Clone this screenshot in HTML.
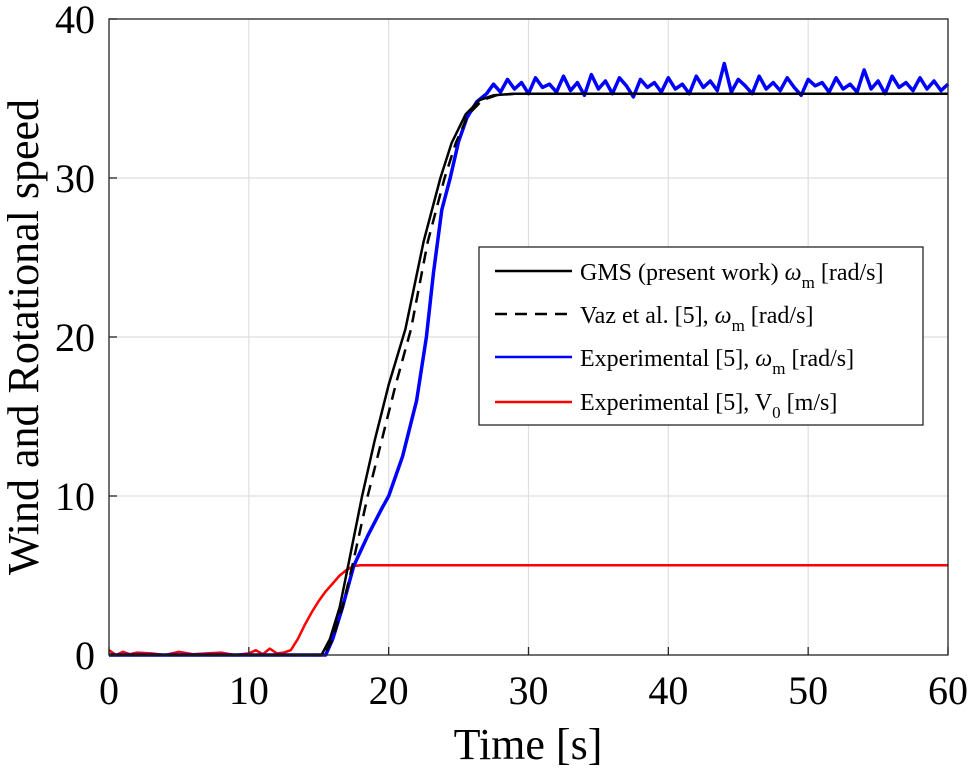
<!DOCTYPE html>
<html><head><meta charset="utf-8"><style>
html,body{margin:0;padding:0;background:#fff;}
svg{display:block;font-family:"Liberation Serif",serif;}
</style></head><body>
<svg id="chart" width="969" height="774">
<g id="grid"></g>
<g id="series"></g>
<rect x="109" y="19" width="839" height="636" fill="none" stroke="#262626" stroke-width="1.3"/>
<g id="ticks"></g>
<text x="528" y="759" font-size="44" text-anchor="middle">Time [s]</text>
<text transform="translate(38,337) rotate(-90)" font-size="44" text-anchor="middle">Wind and Rotational speed</text>
<g>
<rect x="479" y="247" width="444" height="178" fill="#fff" stroke="#262626" stroke-width="1.3"/>
<line x1="495" y1="271" x2="572" y2="271" stroke="#000" stroke-width="2.5"/>
<text x="580" y="280" font-size="24">GMS (present work) <tspan font-style="italic">ω</tspan><tspan font-size="17" dy="8">m</tspan><tspan dy="-8"> [rad/s]</tspan></text>
<line x1="495" y1="314" x2="572" y2="314" stroke="#000" stroke-width="2.5" stroke-dasharray="12,8"/>
<text x="580" y="323" font-size="24">Vaz et al. [5], <tspan font-style="italic">ω</tspan><tspan font-size="17" dy="8">m</tspan><tspan dy="-8"> [rad/s]</tspan></text>
<line x1="495" y1="357" x2="572" y2="357" stroke="#0000ff" stroke-width="2.5"/>
<text x="580" y="366" font-size="24">Experimental [5], <tspan font-style="italic">ω</tspan><tspan font-size="17" dy="8">m</tspan><tspan dy="-8"> [rad/s]</tspan></text>
<line x1="495" y1="402" x2="572" y2="402" stroke="#ff0000" stroke-width="2.5"/>
<text x="580" y="410" font-size="24">Experimental [5], V<tspan font-size="17" dy="8">0</tspan><tspan dy="-8"> [m/s]</tspan></text>
</g>
</svg>
<script>
const xTicks=[0,10,20,30,40,50,60];
const yTicks=[0,10,20,30,40];
const gmsT=[0,15.2,15.8,16.5,17.1,18.1,19,20,21.2,22.5,23.7,24.5,25.5,26.5,27.5,29,31,60];
const gmsV=[0,0,1,3,5.6,10,13.5,17,20.5,26,30,32.2,34,34.9,35.2,35.3,35.3,35.3];
const vazT=[0,15.4,16,16.7,17.4,18.5,19.5,20.5,21.6,22.8,24,24.8,25.7,26.7,27.7,29,31,60];
const vazV=[0,0,1,3,5.6,10,13.5,17,20.5,26,30,32.2,34,34.9,35.2,35.3,35.3,35.3];
const expWT=[0,15.5,16,16.7,17.5,18.5,19.5,20,21,22,22.7,23.2,23.8,24.4,25,25.6,26.3,27,27.5,28,28.5,29,29.5,30,30.5,31,31.5,32,32.5,33,33.5,34,34.5,35,35.5,36,36.5,37,37.5,38,38.5,39,39.5,40,40.5,41,41.5,42,42.5,43,43.5,44,44.5,45,45.5,46,46.5,47,47.5,48,48.5,49,49.5,50,50.5,51,51.5,52,52.5,53,53.5,54,54.5,55,55.5,56,56.5,57,57.5,58,58.5,59,59.5,60];
const expWV=[0,0,1,3,5.6,7.5,9.2,10,12.5,16,20,24,28,30,32.3,33.8,34.8,35.3,35.9,35.4,36.2,35.6,36,35.3,36.3,35.7,35.9,35.4,36.4,35.5,36,35.2,36.5,35.6,36.1,35.3,36.3,35.8,35.1,36.2,35.7,36,35.4,36.3,35.6,35.9,35.3,36.4,35.7,36.1,35.5,37.2,35.4,36.2,35.8,35.3,36.4,35.6,36,35.5,36.3,35.7,35.2,36.2,35.8,36,35.4,36.3,35.6,35.9,35.4,36.8,35.6,36.1,35.3,36.4,35.7,36,35.5,36.3,35.6,36.1,35.5,35.9];
const windT=[0,0.5,1,1.5,2,3,4,5,6,7,8,9,10,10.5,11,11.5,12,12.5,13,13.5,14,14.5,15,15.5,16,16.5,17,17.5,18,60];
const windV=[0.3,0,0.2,0.05,0.15,0.1,0,0.2,0.05,0.1,0.15,0,0.1,0.3,0.05,0.4,0.1,0.15,0.3,1.0,1.9,2.7,3.4,4.0,4.5,5.0,5.35,5.6,5.65,5.65];
const X0=109,X1=948,Y0=655,Y1=19;
const sx=t=>X0+(t/60)*(X1-X0);
const sy=v=>Y0-(v/40)*(Y0-Y1);
const NS="http://www.w3.org/2000/svg";
const grid=document.getElementById('grid'),ticks=document.getElementById('ticks'),ser=document.getElementById('series');
function mk(tag,attrs,parent){const e=document.createElementNS(NS,tag);for(const k in attrs)e.setAttribute(k,attrs[k]);parent.appendChild(e);return e;}
xTicks.forEach(t=>{
 const g=mk('line',{x1:sx(t),x2:sx(t),y1:Y1,y2:Y0,stroke:'#dfdfdf','stroke-width':1.2},grid);
 
 
 const k=mk('line',{x1:sx(t),x2:sx(t),y1:Y0,y2:Y0-8,stroke:'#262626','stroke-width':1.3},ticks);
 
 
 const l=mk('text',{x:sx(t),y:704,'font-size':40,'text-anchor':'middle'},ticks);
 l.textContent=t;
 
 
});
yTicks.forEach(v=>{
 const g=mk('line',{x1:X0,x2:X1,y1:sy(v),y2:sy(v),stroke:'#dfdfdf','stroke-width':1.2},grid);
 
 
 const k=mk('line',{x1:X0,x2:X0+8,y1:sy(v),y2:sy(v),stroke:'#262626','stroke-width':1.3},ticks);
 
 
 const l=mk('text',{x:95,y:sy(v)+14,'font-size':40,'text-anchor':'end'},ticks);
 l.textContent=v;
 
 
});
function line(T,V,color,w,dash,name){
 const d=T.map((t,i)=>(i?'L':'M')+sx(t).toFixed(1)+','+sy(V[i]).toFixed(1)).join('');
 const p=mk('path',{d:d,fill:'none',stroke:color,'stroke-width':w,'stroke-linejoin':'round'},ser);
 if(dash)p.setAttribute('stroke-dasharray',dash);
 
 
}
line(windT,windV,'#ff0000',2.5,null,'wind-speed-line');
line(expWT,expWV,'#0000ff',3.5,null,'experimental-omega-line');
line(vazT,vazV,'#000',2.5,'12,8','vaz-omega-line');
line(gmsT,gmsV,'#000',2.5,null,'gms-omega-line');
</script>
</body></html>
